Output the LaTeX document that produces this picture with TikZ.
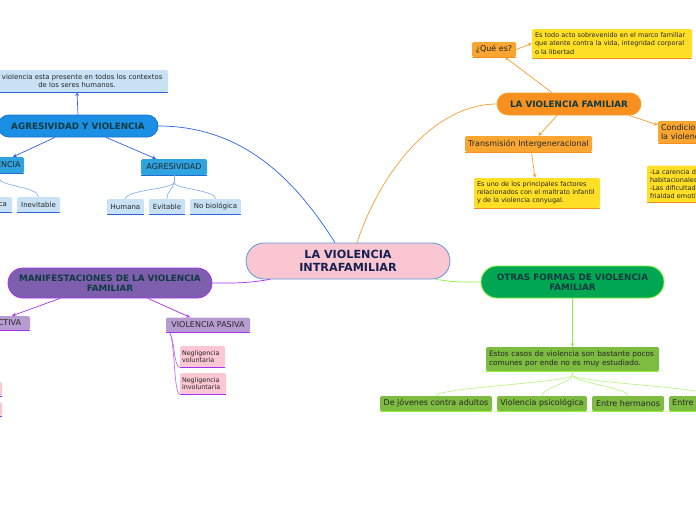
\documentclass[tikz,border=0pt]{standalone}
\usepackage{fontspec}
\setmainfont{DejaVu Sans}
\usepackage{tikz}
\usetikzlibrary{arrows}

\definecolor{titletext}{HTML}{0E3A40}
\definecolor{navy}{HTML}{17214F}
\definecolor{pinkfill}{HTML}{F9C6D2}
\definecolor{pinkline}{HTML}{5B9BD5}
\definecolor{bluemain}{HTML}{1B8FE3}
\definecolor{blueedge}{HTML}{1F6FD0}
\definecolor{bluesub}{HTML}{2EA3E0}
\definecolor{bluelight}{HTML}{C8E1F5}
\definecolor{blueline}{HTML}{2B63E8}
\definecolor{bluetree}{HTML}{8AB4F0}
\definecolor{orangemain}{HTML}{F7901E}
\definecolor{orangeline}{HTML}{F7A030}
\definecolor{orangesub}{HTML}{F8A531}
\definecolor{yellowsub}{HTML}{FFDF26}
\definecolor{purplemain}{HTML}{7D5FAE}
\definecolor{purpleline}{HTML}{A531F2}
\definecolor{lilac}{HTML}{B79CD1}
\definecolor{pinksub}{HTML}{FAC7D3}
\definecolor{greenmain}{HTML}{00A651}
\definecolor{greenline}{HTML}{8CF23A}
\definecolor{greensub}{HTML}{7DBB41}

\tikzset{
  topic/.style={draw, line width=0.8pt, inner sep=1pt, align=center,
    text=titletext, font=\bfseries\fontsize{8.8}{10.4}\selectfont},
  leaf/.style={rounded corners=1.5pt, inner sep=1pt, align=center,
    text=black!85, font=\fontsize{8}{9.4}\selectfont},
  note/.style={leaf, align=left, inner sep=3pt, font=\fontsize{6.5}{8.2}\selectfont},
  under/.style={append after command={(\tikzlastnode.south west)
    edge[draw=#1, line width=1.2pt] (\tikzlastnode.south east)}},
  link/.style={line width=0.7pt, >=stealth},
}

\begin{document}
\begin{tikzpicture}[x=1pt, y=-1pt]
  \useasboundingbox[fill=white] (0,0) rectangle (696,520);

  % centre
  \node[topic, fill=pinkfill, draw=pinkline, text=navy, rounded corners=18pt,
    minimum width=204pt, minimum height=36pt,
    font=\bfseries\fontsize{11.2}{12.6}\selectfont] (intra) at (348,261)
    {LA VIOLENCIA\\INTRAFAMILIAR};

  % agresividad y violencia
  \node[topic, fill=bluemain, draw=blueedge, rounded corners=11pt,
    minimum width=160pt, minimum height=22pt] (agre) at (78,126)
    {AGRESIVIDAD Y VIOLENCIA};
  \node[leaf, fill=bluelight, under=blueline, minimum width=182pt, minimum height=22pt,
    font=\fontsize{6.9}{8.8}\selectfont] (agreinfo) at (77,81)
    {La violencia esta presente en todos los contextos\\de los seres humanos.};
  \node[leaf, fill=bluesub, under=blueedge, minimum width=50pt, minimum height=16pt] (viol) at (-1,165) {VIOLENCIA};
  \node[leaf, fill=bluesub, under=blueedge, minimum width=66pt, minimum height=16pt] (agrs) at (174,167) {AGRESIVIDAD};
  \node[leaf, fill=bluelight, under=blueline, minimum width=42pt, minimum height=15pt,
    font=\fontsize{7}{8}\selectfont] (biol) at (-9,204.5) {Biológica};
  \node[leaf, fill=bluelight, under=blueline, minimum width=43pt, minimum height=15pt,
    font=\fontsize{7}{8}\selectfont] (inev) at (38.5,204.5) {Inevitable};
  \node[leaf, fill=bluelight, under=blueline, minimum width=37pt, minimum height=15pt,
    font=\fontsize{7}{8}\selectfont] (hum) at (125.5,206.5) {Humana};
  \node[leaf, fill=bluelight, under=blueline, minimum width=36pt, minimum height=15pt,
    font=\fontsize{7}{8}\selectfont] (evit) at (167,206.5) {Evitable};
  \node[leaf, fill=bluelight, under=blueline, minimum width=51pt, minimum height=15pt,
    font=\fontsize{7}{8}\selectfont] (nobio) at (215.5,206.5) {No biológica};

  \draw[link, blueline, ->] (agre.north) -- (agreinfo.south);
  \draw[link, blueline, ->] ([xshift=-23pt]agre.south) -- ([xshift=14pt]viol.north);
  \draw[link, blueline, ->] ([xshift=28pt]agre.south) -- ([xshift=-18pt]agrs.north);
  \draw[link, blueline] (agre.east) .. controls +(90,0) and +(-35,-55) .. ([xshift=-13pt]intra.north);
  \draw[link, bluetree] (viol.south) -- ++(0,5) coordinate (violfork);
  \draw[link, bluetree] (agrs.south) -- ++(0,7) coordinate (agrsfork);
  \foreach \kid in {biol, inev}
    \draw[link, bluetree] (violfork) .. controls +(0,8) and +(0,-10) .. (\kid.north);
  \foreach \kid in {hum, evit, nobio}
    \draw[link, bluetree] (agrsfork) .. controls +(0,7) and +(0,-9) .. (\kid.north);

  % la violencia familiar
  \node[topic, fill=orangemain, draw=orangeline, rounded corners=11pt,
    minimum width=144pt, minimum height=22pt] (fam) at (569,104)
    {LA VIOLENCIA FAMILIAR};
  \node[leaf, fill=orangesub, under=orangemain, minimum width=44pt, minimum height=15pt] (que) at (494,49.5) {¿Qué es?};
  \node[note, fill=yellowsub, under=orangemain, text width=154pt, minimum height=29pt] (quedef) at (612,43.5)
    {Es todo acto sobrevenido en el marco familiar\\que atente contra la vida, integridad corporal\\o la libertad};
  \node[leaf, fill=orangesub, under=orangemain, minimum width=127pt, minimum height=16pt] (trans) at (528.5,144)
    {Transmisión Intergeneracional};
  \node[note, fill=yellowsub, under=orangemain, text width=120pt, minimum height=30pt] (transdef) at (537,193)
    {Es uno de los principales factores\\relacionados con el maltrato infantil\\y de la violencia conyugal.};
  \node[leaf, fill=orangesub, under=orangemain, align=left, inner sep=3pt, text width=78pt,
    minimum height=22pt] (cond) at (700,132) {Condiciones de\\la violencia};
  \node[note, fill=yellowsub, under=orangemain, text width=104pt, minimum height=37pt] (condef) at (702,184)
    {-La carencia de espacios\\habitacionales\\-Las dificultades y la\\frialdad emotiva};

  \draw[link, orangeline] ([xshift=9pt]intra.north) .. controls +(25,-75) and +(-60,0) .. (fam.west);
  \draw[link, orangeline, ->] ([xshift=-17pt]fam.north) -- ([xshift=11pt]que.south);
  \draw[link, orangeline, ->] (que.east) -- (quedef.west);
  \draw[link, orangeline, ->] ([xshift=-12pt]fam.south) -- ([xshift=10pt]trans.north);
  \draw[link, orangeline, ->] ([xshift=3pt]trans.south) -- ([xshift=-2pt]transdef.north);
  \draw[link, orangeline, ->] ([xshift=60pt]fam.south) -- ([yshift=7pt]cond.west);

  % manifestaciones
  \node[topic, fill=purplemain, draw=purpleline, rounded corners=15pt,
    minimum width=204pt, minimum height=30pt] (manif) at (110,283)
    {MANIFESTACIONES DE LA VIOLENCIA\\FAMILIAR};
  \node[leaf, fill=lilac, under=purpleline, minimum width=92pt, minimum height=14pt] (activa) at (-16,323) {VIOLENCIA ACTIVA};
  \node[leaf, fill=lilac, under=purpleline, minimum width=84pt, minimum height=15pt] (pasiva) at (208,325) {VIOLENCIA PASIVA};
  \node[leaf, fill=pinksub, under=purpleline, align=left, text width=41pt, inner sep=2pt,
    minimum height=21pt, font=\fontsize{6.4}{7.6}\selectfont] (negvol) at (202.5,356.5) {Negligencia\\voluntaria};
  \node[leaf, fill=pinksub, under=purpleline, align=left, text width=42pt, inner sep=2pt,
    minimum height=21pt, font=\fontsize{6.4}{7.6}\selectfont] (neginv) at (203,383.5) {Negligencia\\involuntaria};
  \node[leaf, fill=pinksub, under=purpleline, minimum width=42pt, minimum height=14pt] (act1) at (-19,389) {};
  \node[leaf, fill=pinksub, under=purpleline, minimum width=42pt, minimum height=14pt] (act2) at (-19,409) {};

  \draw[link, purpleline] ([xshift=-78pt]intra.south) .. controls +(-25,4) and +(25,0) .. (manif.east);
  \draw[link, purpleline, ->] ([xshift=-50pt]manif.south) -- ([xshift=28pt]activa.north);
  \draw[link, purpleline, ->] ([xshift=38pt]manif.south) -- ([xshift=-18pt]pasiva.north);
  \foreach \kid in {negvol, neginv}
    \draw[link, purpleline!70] ([xshift=4pt]pasiva.south west) .. controls +(5,8) and +(-6,0) .. (\kid.south west);

  % otras formas
  \node[topic, fill=greenmain, draw=greenline, rounded corners=16pt,
    minimum width=183pt, minimum height=32pt] (otras) at (572.5,282)
    {OTRAS FORMAS DE VIOLENCIA\\FAMILIAR};
  \node[leaf, fill=greensub, under=greenline, align=left, inner sep=3pt, text width=167pt,
    minimum height=24pt, font=\fontsize{7.4}{9.4}\selectfont] (casos) at (572.5,359)
    {Estos casos de violencia son bastante pocos\\comunes por ende no es muy estudiado.};
  \node[leaf, fill=greensub, under=greenline, minimum width=112pt, minimum height=15pt] (jov) at (436,403.5) {De jóvenes contra adultos};
  \node[leaf, fill=greensub, under=greenline, minimum width=90pt, minimum height=15pt] (psic) at (542,403.5) {Violencia psicológica};
  \node[leaf, fill=greensub, under=greenline, minimum width=72pt, minimum height=15pt] (herm) at (628,403.5) {Entre hermanos};
  \node[leaf, fill=greensub, under=greenline, minimum height=15pt, inner sep=3pt, anchor=west] (padres) at (669,403.5) {Entre padres e hijos};

  \draw[link, greenline] ([xshift=88pt]intra.south) .. controls +(20,3) and +(-20,0) .. (otras.west);
  \draw[link, greenline, ->] (otras.south) -- (casos.north);
  \draw[link, greenline!60] (casos.south) -- ++(0,4) coordinate (casosfork);
  \foreach \kid in {jov, psic, herm, padres}
    \draw[link, greenline!60] (casosfork) .. controls +(0,7) and +(0,-8) .. (\kid.north);
\end{tikzpicture}
\end{document}
